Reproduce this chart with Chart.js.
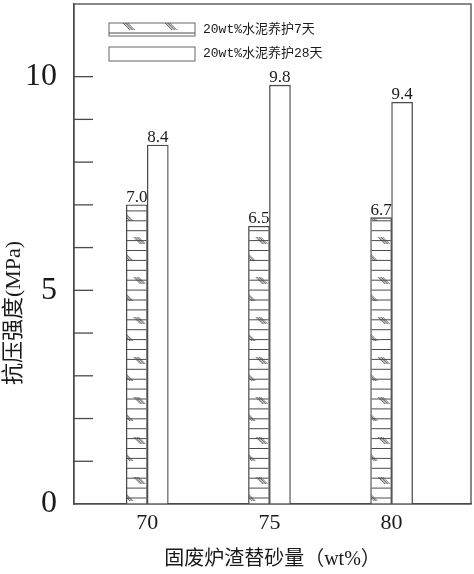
<!DOCTYPE html>
<html>
<head>
<meta charset="utf-8">
<script src="https://cdn.jsdelivr.net/npm/chart.js@4.4.0/dist/chart.umd.min.js"></script>
<style>
  html, body { margin: 0; padding: 0; background: #fff; }
  #wrap { width: 474px; height: 574px; }
</style>
</head>
<body>
<div id="wrap"><canvas id="strength-chart"></canvas></div>
<script>
// slag replacement of sand (wt%)
const slagLevels = [70, 75, 80];
// compressive strength (MPa)
const strength7d = [7.0, 6.5, 6.7];
const strength28d = [8.4, 9.8, 9.4];
const seriesNames = ['20wt%水泥养护7天', '20wt%水泥养护28天'];
// y values that get a number, every integer gets an inner tick
const yLabeled = [0, 5, 10];

const lineColor = '#4a4a4a';
const textColor = '#1a1a1a';
const serif = '"Liberation Serif", "Noto Sans CJK SC", serif';
const monoCjk = '"Liberation Mono", "Noto Sans CJK SC", monospace';

//small group of slanted strokes used in the hatch
function slash(ctx, x, y, n) {
    for (let i = 0; i < n; i++) {
        ctx.beginPath();
        ctx.moveTo(x + i * 1.6, y);
        ctx.lineTo(x + i * 1.6 + 7, y + 7);
        ctx.stroke();
    }
}

//horizontal lines + marks, clipped to the given box
function drawHatch(ctx, left, top, right, bottom) {
    ctx.save();
    ctx.beginPath();
    ctx.rect(left, top, right - left, bottom - top);
    ctx.clip();
    ctx.strokeStyle = lineColor;
    ctx.lineWidth = 1;
    for (let y = bottom - 6; y > top; y -= 9.9) {
        ctx.beginPath();
        ctx.moveTo(left, y);
        ctx.lineTo(right, y);
        ctx.stroke();
    }
    ctx.lineWidth = 0.8;
    for (let y = bottom - 27; y > top - 40; y -= 40) {
        slash(ctx, right - 13, y, 4);
        slash(ctx, left - 4, y + 17, 3);
    }
    ctx.restore();
}

const barDecor = {
    id: 'barDecor',
    afterDatasetsDraw(chart) {
        const ctx = chart.ctx;
        //hatch on the 7 day bars
        chart.getDatasetMeta(0).data.forEach(bar => {
            const p = bar.getProps(['x', 'y', 'base', 'width'], true);
            drawHatch(ctx, p.x - p.width / 2 + 0.7, p.y + 0.7, p.x + p.width / 2 - 0.7, p.base);
        });
        //value labels
        ctx.save();
        ctx.fillStyle = textColor;
        ctx.font = '17px ' + serif;
        ctx.textAlign = 'center';
        ctx.textBaseline = 'bottom';
        chart.data.datasets.forEach((ds, i) => {
            chart.getDatasetMeta(i).data.forEach((bar, j) => {
                ctx.fillText(ds.data[j].y.toFixed(1), bar.x, bar.y + 1);
            });
        });
        ctx.restore();
    },
    afterDraw(chart) {
        const ctx = chart.ctx;
        const area = chart.chartArea;
        const yScale = chart.scales.y;
        ctx.save();
        ctx.strokeStyle = lineColor;
        ctx.lineWidth = 1.3;
        //frame
        ctx.strokeRect(area.left, area.top, area.right - area.left, area.bottom - area.top);
        //inner ticks
        yScale.ticks.forEach(t => {
            if (!Number.isInteger(t.value) || t.value === 0) return;
            const y = yScale.getPixelForValue(t.value);
            ctx.beginPath();
            ctx.moveTo(area.left, y);
            ctx.lineTo(area.left + 19, y);
            ctx.stroke();
        });

        //legend inside plot
        const lx = area.left + 35;
        const boxes = [[area.top + 19, 13], [area.top + 43, 14]];
        ctx.lineWidth = 1;
        ctx.font = '13px ' + monoCjk;
        ctx.textBaseline = 'middle';
        boxes.forEach((b, i) => {
            const [top, h] = b;
            ctx.fillStyle = '#fff';
            ctx.fillRect(lx, top, 86, h);
            ctx.strokeStyle = '#666';
            ctx.strokeRect(lx, top, 86, h);
            if (i === 0) {
                ctx.strokeStyle = lineColor;
                ctx.beginPath();
                ctx.moveTo(lx, top + h - 3);
                ctx.lineTo(lx + 86, top + h - 3);
                ctx.stroke();
                ctx.save();
                ctx.beginPath();
                ctx.rect(lx, top, 86, h);
                ctx.clip();
                ctx.lineWidth = 0.8;
                slash(ctx, lx + 14, top, 4);
                slash(ctx, lx + 56, top, 4);
                ctx.restore();
            }
            ctx.fillStyle = textColor;
            ctx.fillText(seriesNames[i], lx + 94, top + h / 2);
        });

        //y axis title
        ctx.translate(14, area.bottom - 191);
        ctx.rotate(-Math.PI / 2);
        ctx.font = '22px ' + serif;
        ctx.textAlign = 'center';
        ctx.fillText('抗压强度(MPa)', 0, 0);
        ctx.restore();
    }
};

const ctx = document.getElementById('strength-chart').getContext('2d');

new Chart(ctx, {
    type: 'bar',
    data: {
        datasets: [{
            label: seriesNames[0],
            data: slagLevels.map((v, i) => ({ x: v, y: strength7d[i] })),
            backgroundColor: '#fff',
            borderColor: lineColor,
            borderWidth: 1.3
        }, {
            label: seriesNames[1],
            data: slagLevels.map((v, i) => ({ x: v, y: strength28d[i] })),
            backgroundColor: '#fff',
            borderColor: lineColor,
            borderWidth: 1.3
        }]
    },
    options: {
        responsive: true,
        maintainAspectRatio: false,
        animation: false,
        barThickness: 21,
        layout: { padding: { top: 4, right: 3, left: 0, bottom: 0 } },
        plugins: {
            legend: { display: false },
            tooltip: { enabled: false }
        },
        scales: {
            x: {
                type: 'linear',
                min: 67,
                max: 83.25,
                offset: false,
                afterBuildTicks: s => { s.ticks = slagLevels.map(v => ({ value: v })); },
                afterFit: s => {
                    s.height = 70;
                    s.paddingLeft = 0;
                    s.paddingRight = 0;
                },
                ticks: { padding: 6, color: textColor, font: { family: serif, size: 22 } },
                grid: { display: false, drawTicks: false },
                border: { color: lineColor, width: 1.3 },
                title: {
                    display: true,
                    text: '固废炉渣替砂量（wt%）',
                    color: textColor,
                    font: { family: serif, size: 20 },
                    padding: { top: 0, bottom: 2 }
                }
            },
            y: {
                min: 0,
                max: 11.7,
                afterFit: s => {
                    s.width = 74;
                    s.paddingTop = 0;
                    s.paddingBottom = 0;
                },
                ticks: {
                    stepSize: 1,
                    autoSkip: false,
                    padding: 17,
                    color: textColor,
                    font: { family: serif, size: 32 },
                    callback: v => yLabeled.includes(v) ? v : ''
                },
                grid: { display: false, drawTicks: false },
                border: { color: lineColor, width: 1.3 }
            }
        }
    },
    plugins: [barDecor]
});
</script>
</body>
</html>
